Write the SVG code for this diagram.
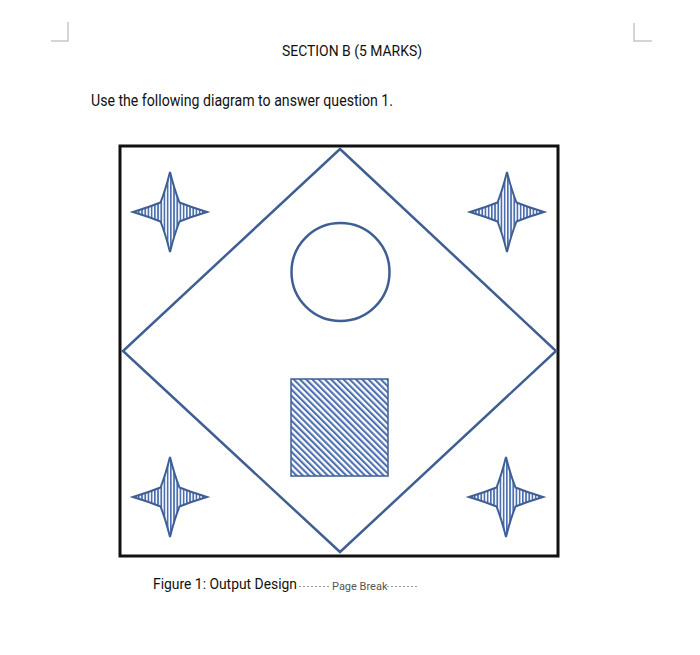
<svg xmlns="http://www.w3.org/2000/svg" width="700" height="655" viewBox="0 0 700 655">
<style>
.txt{font-family:Roboto,"Liberation Sans",sans-serif;fill:#111111}
.shape{stroke:#3f5f93;stroke-width:2.5;fill:none}
.mark{stroke:#c8c8c8;stroke-width:1.5;fill:none}
</style>
<defs>
<pattern id="vstripe" width="3.2" height="10" patternUnits="userSpaceOnUse">
<rect width="3.2" height="10" fill="#ffffff"/>
<rect x="0" width="1.7" height="10" fill="#4c6fb0"/>
</pattern>
<pattern id="dstripe" width="4.4" height="10" patternUnits="userSpaceOnUse" patternTransform="rotate(-45)">
<rect width="4.4" height="10" fill="#ffffff"/>
<rect x="0" width="2.1" height="10" fill="#4c6fb0"/>
</pattern>
<path id="star" d="M0,-40 Q4.5,-22 9.5,-9.5 Q22,-4.5 37,0 Q22,4.5 9.5,9.5 Q4.5,22 0,40 Q-4.5,22 -9.5,9.5 Q-22,4.5 -37,0 Q-22,-4.5 -9.5,-9.5 Q-4.5,-22 0,-40 Z" fill="url(#vstripe)" stroke="#3f5f93" stroke-width="2" stroke-linejoin="miter"/>
</defs>
<rect width="700" height="655" fill="#ffffff"/>
<g id="corner-marks">
<path class="mark" d="M68,22 V41 H51"/>
<path class="mark" d="M634,23 V41 H652"/>
</g>
<text class="txt" x="282" y="55.5" font-size="14.8" textLength="140" lengthAdjust="spacingAndGlyphs">SECTION B (5 MARKS)</text>
<text class="txt" x="91" y="105.5" font-size="15.6" textLength="302" lengthAdjust="spacingAndGlyphs">Use the following diagram to answer question 1.</text>
<g id="frame"><rect x="120" y="146" width="438" height="410" fill="none" stroke="#111111" stroke-width="3"/></g>
<g id="diamond"><path class="shape" d="M340,149 L556,351 L340,552 L123,351 Z"/></g>
<g id="circle"><circle class="shape" cx="340.5" cy="272" r="49"/></g>
<g id="square"><rect x="291" y="379" width="97" height="97" fill="url(#dstripe)" stroke="#3f5f93" stroke-width="1.5"/></g>
<g id="star-tl"><use href="#star" x="170" y="212"/></g>
<g id="star-tr"><use href="#star" x="507" y="212"/></g>
<g id="star-bl"><use href="#star" x="170" y="497"/></g>
<g id="star-br"><use href="#star" x="506" y="497"/></g>
<g id="caption">
<text class="txt" x="153" y="588.5" font-size="15" textLength="144" lengthAdjust="spacingAndGlyphs">Figure 1: Output Design</text>
<line x1="299" y1="586.5" x2="330" y2="586.5" stroke="#9a9a9a" stroke-width="1" stroke-dasharray="2,2"/>
<text x="332" y="590" font-family="Roboto,'Liberation Sans',sans-serif" font-size="11" fill="#555555">Page Break</text>
<line x1="387" y1="586.5" x2="419" y2="586.5" stroke="#9a9a9a" stroke-width="1" stroke-dasharray="2,2"/>
</g>
</svg>
